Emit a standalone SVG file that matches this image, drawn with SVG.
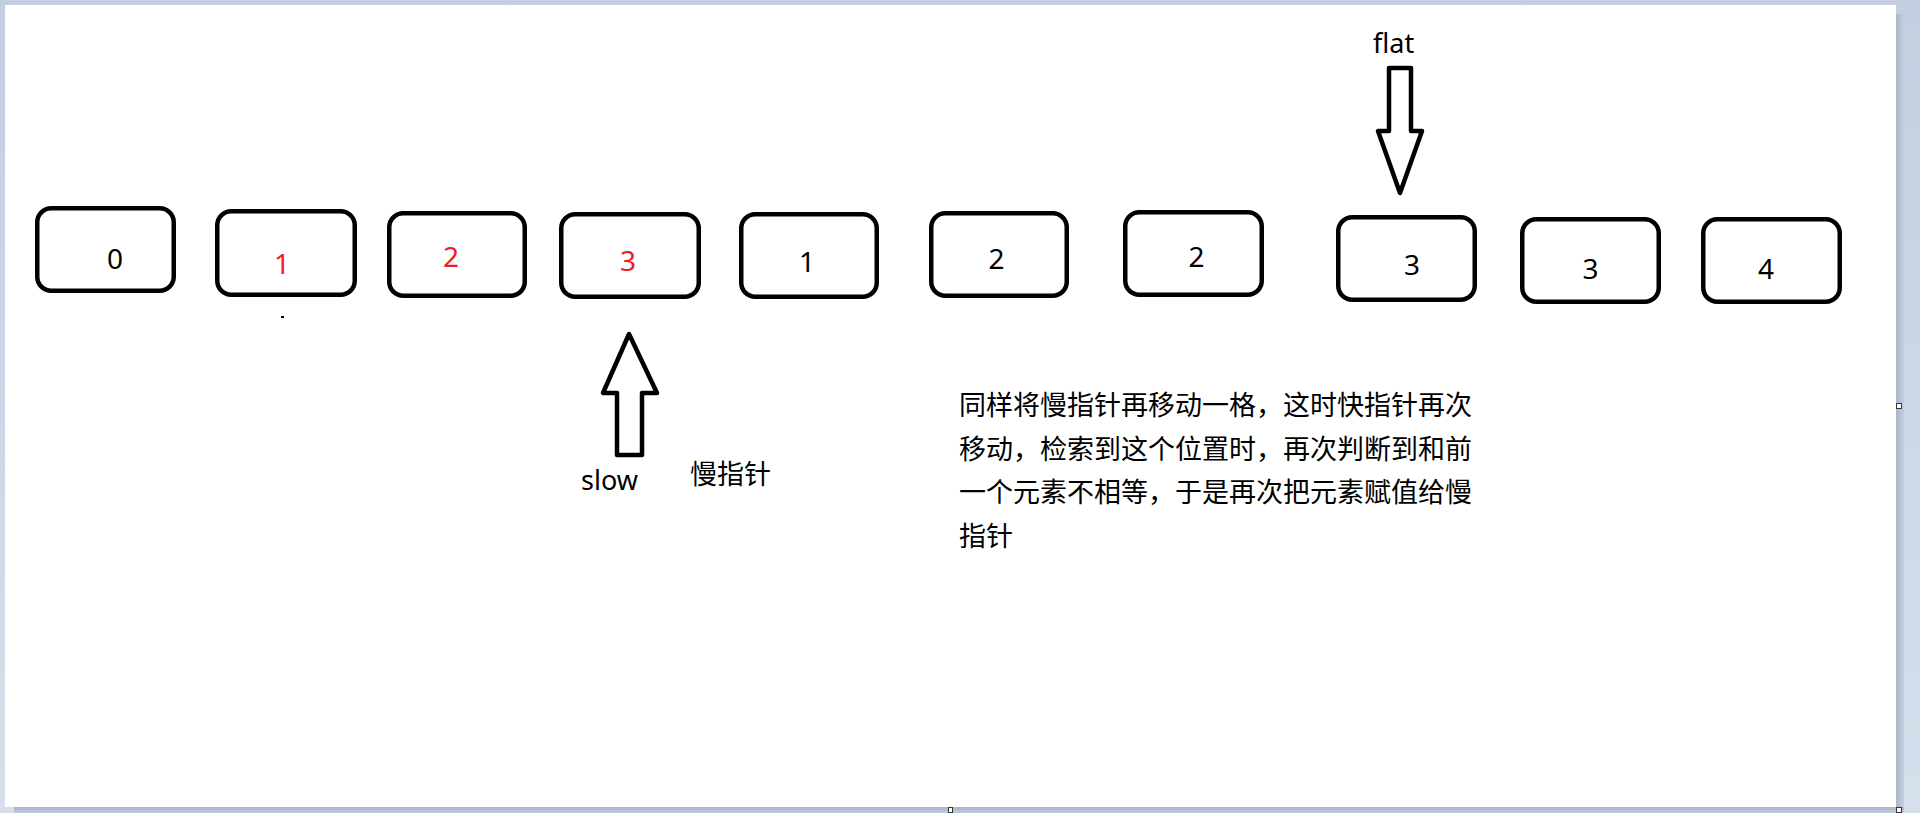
<svg xmlns="http://www.w3.org/2000/svg" width="1920" height="813" viewBox="0 0 1920 813">
  <defs>
    <linearGradient id="bg" x1="0" y1="0" x2="0" y2="1">
      <stop offset="0" stop-color="#c4cee0"/>
      <stop offset="1" stop-color="#d6dfec"/>
    </linearGradient>
    <linearGradient id="shR" x1="0" y1="0" x2="1" y2="0">
      <stop offset="0" stop-color="#a9b5ca"/>
      <stop offset="1" stop-color="#c4cee0"/>
    </linearGradient>
    <linearGradient id="shB" x1="0" y1="0" x2="0" y2="1">
      <stop offset="0" stop-color="#a9b5ca"/>
      <stop offset="1" stop-color="#c8d2e3"/>
    </linearGradient>
  </defs>
  <style>
    .box { fill: #ffffff; stroke: #000000; stroke-width: 4.5; }
    .num { font-family: "Noto Sans", "Open Sans", sans-serif; font-size: 28px; text-anchor: middle; fill: #000000; }
    .red { fill: #ed1c24; }
    .arrow { fill: #ffffff; stroke: #000000; stroke-width: 4.5; stroke-linejoin: round; }
    .lbl { font-family: "Noto Sans", "Noto Sans CJK SC", sans-serif; font-size: 27px; fill: #000000; }
    .cjk { font-family: "Noto Sans CJK SC", sans-serif; font-size: 27px; fill: #000000; }
    .handle { fill: #ffffff; stroke: #333333; stroke-width: 1; }
  </style>

  <!-- window background and canvas -->
  <rect x="0" y="0" width="1920" height="813" fill="url(#bg)"/>
  <rect x="1896" y="14" width="8" height="801" fill="url(#shR)"/>
  <rect x="14" y="807" width="1890" height="8" fill="url(#shB)"/>
  <rect x="5" y="5" width="1891" height="802" fill="#ffffff"/>
  <rect class="handle" x="1896.5" y="403.5" width="5" height="5"/>
  <rect class="handle" x="948.5" y="807.5" width="4" height="5"/>
  <rect class="handle" x="1896.5" y="807.5" width="5" height="5"/>

  <!-- array elements -->
  <g id="node-0">
    <rect class="box" x="37.25" y="208.25" width="136.5" height="82.5" rx="14"/>
    <text class="num" x="115" y="269">0</text>
  </g>
  <g id="node-1">
    <rect class="box" x="217.25" y="211.25" width="137.5" height="83.5" rx="14"/>
    <text class="num red" x="282" y="274">1</text>
  </g>
  <g id="node-2">
    <rect class="box" x="389.25" y="213.25" width="135.5" height="82.5" rx="14"/>
    <text class="num red" x="451" y="267">2</text>
  </g>
  <g id="node-3">
    <rect class="box" x="561.25" y="214.25" width="137.5" height="82.5" rx="14"/>
    <text class="num red" x="628" y="271">3</text>
  </g>
  <g id="node-4">
    <rect class="box" x="741.25" y="214.25" width="135.5" height="82.5" rx="14"/>
    <text class="num" x="807" y="272">1</text>
  </g>
  <g id="node-5">
    <rect class="box" x="931.25" y="213.25" width="135.5" height="82.5" rx="14"/>
    <text class="num" x="996.5" y="269">2</text>
  </g>
  <g id="node-6">
    <rect class="box" x="1125.25" y="212.25" width="136.5" height="82.5" rx="14"/>
    <text class="num" x="1196.5" y="267">2</text>
  </g>
  <g id="node-7">
    <rect class="box" x="1338.25" y="217.25" width="136.5" height="82.5" rx="14"/>
    <text class="num" x="1412" y="275">3</text>
  </g>
  <g id="node-8">
    <rect class="box" x="1522.25" y="219.25" width="136.5" height="82.5" rx="14"/>
    <text class="num" x="1590.5" y="279">3</text>
  </g>
  <g id="node-9">
    <rect class="box" x="1703.25" y="219.25" width="136.5" height="82.5" rx="14"/>
    <text class="num" x="1766" y="279">4</text>
  </g>

  <!-- pointer arrows -->
  <g id="connectors">
    <polygon id="slow-arrow" class="arrow" points="629,334 603,393 617,393 617,455 642,455 642,393 657,393"/>
    <polygon id="flat-arrow" class="arrow" points="1389,68 1411,68 1411,131 1422,131 1400,193 1378,131 1389,131"/>
  </g>

  <!-- labels -->
  <g id="label-slow">
    <text class="lbl" x="581" y="490">slow</text>
  </g>
  <g id="label-slow-cn">
    <text class="cjk" x="690" y="484">慢指针</text>
  </g>
  <g id="label-flat">
    <text class="lbl" x="1373" y="53">flat</text>
  </g>
  <g id="note">
    <text class="cjk" x="959" y="415">同样将慢指针再移动一格，这时快指针再次</text>
    <text class="cjk" x="959" y="459">移动，检索到这个位置时，再次判断到和前</text>
    <text class="cjk" x="959" y="502">一个元素不相等，于是再次把元素赋值给慢</text>
    <text class="cjk" x="959" y="546">指针</text>
  </g>
  <rect x="281" y="316" width="3" height="2" fill="#000000"/>
</svg>
